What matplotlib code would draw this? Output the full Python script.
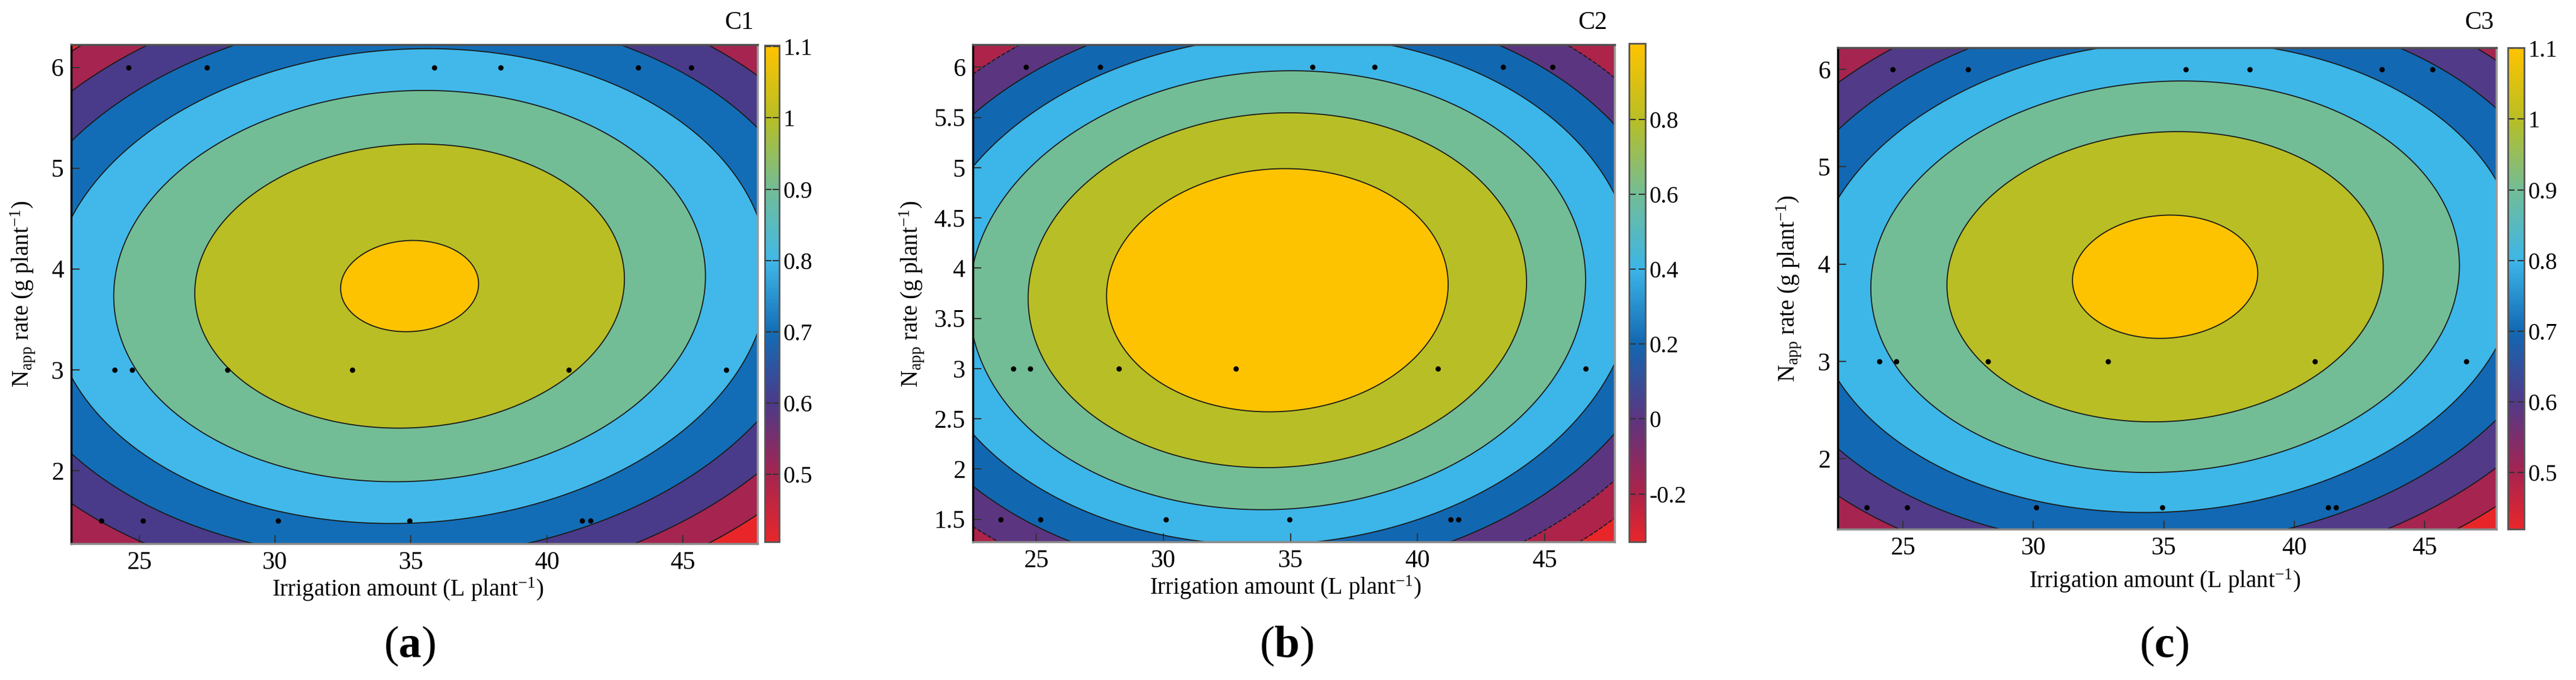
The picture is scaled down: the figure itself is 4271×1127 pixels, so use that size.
import numpy as np
import matplotlib
matplotlib.use("Agg")
import matplotlib.pyplot as plt
from matplotlib.colors import LinearSegmentedColormap, Normalize
from matplotlib.cm import ScalarMappable

# ---------------- data ----------------
panel_titles = ["C1", "C2", "C3"]
panel_letters = ["a", "b", "c"]

# experimental design points (irrigation L/plant, N rate g/plant)
irrigation_pts = [24.6, 27.5, 35.85, 38.3, 43.35, 45.3,
                  24.1, 24.75, 28.25, 32.85, 40.8, 46.6,
                  23.6, 25.15, 30.1, 34.95, 41.3, 41.6]
nrate_pts = [6, 6, 6, 6, 6, 6,
             3, 3, 3, 3, 3, 3,
             1.5, 1.5, 1.5, 1.5, 1.5, 1.5]

# fitted quadratic response-surface coefficients for each panel
peak_value = [1.1115, 1.005, 1.122]
peak_irrigation = [34.95, 34.48, 35.05]
peak_nrate = [3.83, 3.78, 3.87]
curv_irrigation = [0.00179, 0.00344, 0.00175]
curv_nrate = [0.0563, 0.106, 0.055]
interaction = [0.00101, 0.00178, 0.00113]

contour_levels = [
    [0.5, 0.6, 0.7, 0.8, 0.9, 1.0, 1.1],
    [-0.2, -0.025, 0.15, 0.325, 0.5, 0.675, 0.85],
    [0.5, 0.6, 0.7, 0.8, 0.9, 1.0, 1.1],
]
band_colors = [
    ["#E8262A", "#A62450", "#4A3A8A", "#126DB6", "#41B8E9", "#72BD96", "#B8BE24", "#FEC300"],
    ["#E8262A", "#AD2349", "#5C3580", "#1267B1", "#3CB5E8", "#72BD96", "#B8BE25", "#FEC300"],
    ["#E8262A", "#A62450", "#513A88", "#1268B2", "#3DB6E8", "#72BD96", "#B8BE24", "#FEC300"],
]
cbar_limits = [(0.405, 1.102), (-0.328, 1.003), (0.42, 1.101)]
cbar_ticks = [
    [0.5, 0.6, 0.7, 0.8, 0.9, 1.0, 1.1],
    [-0.2, 0.0, 0.2, 0.4, 0.6, 0.8],
    [0.5, 0.6, 0.7, 0.8, 0.9, 1.0, 1.1],
]
cbar_ticklabels = [
    ["0.5", "0.6", "0.7", "0.8", "0.9", "1", "1.1"],
    ["-0.2", "0", "0.2", "0.4", "0.6", "0.8"],
    ["0.5", "0.6", "0.7", "0.8", "0.9", "1", "1.1"],
]
# colorbar colour anchors (value of each band colour on the colourbar)
cbar_anchor_values = [
    [0.5, 0.6, 0.7, 0.8, 0.9, 1.0, 1.1],
    [-0.2, 0.0, 0.2, 0.4, 0.6, 0.8, 1.0],
    [0.5, 0.6, 0.7, 0.8, 0.9, 1.0, 1.1],
]
x_ticks = [25, 30, 35, 40, 45]
y_ticks = [[2, 3, 4, 5, 6], [1.5, 2, 2.5, 3, 3.5, 4, 4.5, 5, 5.5, 6], [2, 3, 4, 5, 6]]
y_ticklabels = [["2", "3", "4", "5", "6"],
                ["1.5", "2", "2.5", "3", "3.5", "4", "4.5", "5", "5.5", "6"],
                ["2", "3", "4", "5", "6"]]
x_limits = (22.5, 47.75)
y_limits = (1.275, 6.225)

xlabel_text = r"Irrigation amount (L plant$^{\mathrm{-1}}$)"
ylabel_text = r"N$_{\mathrm{app}}$ rate (g plant$^{\mathrm{-1}}$)"

# ---------------- layout (pixels of a 4271 x 1127 canvas) ----------------
W, H = 4271, 1127
axes_px = [(118, 1256, 74, 901), (1613, 2677, 74, 898), (3047, 4139, 79, 877)]
cbar_px = [(1268, 1292, 75, 898), (2701, 2728, 72, 898), (4158, 4185, 79, 877)]
title_px = [(1250, 57), (2665, 57), (4135, 57)]
letter_px = [(679, 1071), (2133, 1071), (3588, 1071)]
xlabel_px = [(676, 977), (2131, 974), (3589, 963)]
ylabel_px = [(38, 487), (1512, 487), (2966, 478)]

plt.rcParams["font.family"] = ["Liberation Serif", "DejaVu Serif"]
plt.rcParams["mathtext.fontset"] = "custom"
plt.rcParams["mathtext.rm"] = "Liberation Serif"
plt.rcParams["mathtext.it"] = "Liberation Serif:italic"
plt.rcParams["mathtext.bf"] = "Liberation Serif:bold"

fig = plt.figure(figsize=(W / 100, H / 100), dpi=100)


def rect(l, r, t, b):
    return [l / W, 1 - b / H, (r - l) / W, (b - t) / H]


xg = np.linspace(x_limits[0], x_limits[1], 400)
yg = np.linspace(y_limits[0], y_limits[1], 400)
XG, YG = np.meshgrid(xg, yg)

for i in range(3):
    ax = fig.add_axes(rect(*axes_px[i]))
    dx = XG - peak_irrigation[i]
    dy = YG - peak_nrate[i]
    Z = (peak_value[i] - curv_irrigation[i] * dx ** 2 - curv_nrate[i] * dy ** 2
         + interaction[i] * dx * dy)
    lv = contour_levels[i]
    ax.contourf(XG, YG, Z, levels=[-100] + lv + [100], colors=band_colors[i])
    ax.contour(XG, YG, Z, levels=lv, colors="#1a1a1a", linewidths=1.3)
    ax.scatter(irrigation_pts, nrate_pts, s=40, c="black", zorder=5, linewidths=0)
    ax.set_xlim(*x_limits)
    ax.set_ylim(*y_limits)
    ax.set_xticks(x_ticks)
    ax.set_xticklabels([str(t) for t in x_ticks])
    ax.set_yticks(y_ticks[i])
    ax.set_yticklabels(y_ticklabels[i])
    ax.tick_params(direction="in", length=10, width=1.5, color="#333333",
                   labelsize=30, pad=9, top=False, right=False)
    ax.spines["left"].set_color("black")
    ax.spines["top"].set_color("#505050")
    ax.spines["right"].set_color("#9a9a9a")
    ax.spines["bottom"].set_color("#8a8a8a")
    for s in ax.spines.values():
        s.set_linewidth(2.5)
        s.set_zorder(6)

    # colorbar
    cax = fig.add_axes(rect(*cbar_px[i]))
    vmin, vmax = cbar_limits[i]
    anchors = [(0.0, band_colors[i][0])]
    for v, col in zip(cbar_anchor_values[i], band_colors[i][1:]):
        anchors.append((min((v - vmin) / (vmax - vmin), 1.0), col))
    if anchors[-1][0] < 1.0:
        anchors.append((1.0, band_colors[i][-1]))
    cmap = LinearSegmentedColormap.from_list("cb%d" % i, anchors, N=512)
    sm = ScalarMappable(norm=Normalize(vmin, vmax), cmap=cmap)
    cb = fig.colorbar(sm, cax=cax)
    cb.set_ticks(cbar_ticks[i])
    cb.set_ticklabels(cbar_ticklabels[i])
    cb.outline.set_edgecolor("#555555")
    cb.outline.set_linewidth(2)
    cax.tick_params(direction="in", length=8, width=1.5, color="#333333",
                    labelsize=28, pad=5, left=True, right=True)

    fig.text(title_px[i][0] / W, 1 - title_px[i][1] / H, panel_titles[i],
             ha="right", va="bottom", fontsize=30)
    fig.text(xlabel_px[i][0] / W, 1 - xlabel_px[i][1] / H, xlabel_text,
             ha="center", va="center", fontsize=28)
    fig.text(ylabel_px[i][0] / W, 1 - ylabel_px[i][1] / H, ylabel_text,
             ha="center", va="center", rotation=90, fontsize=28)
    fig.text(letter_px[i][0] / W, 1 - letter_px[i][1] / H,
             r"($\mathbf{%s}$)" % panel_letters[i],
             ha="center", va="center", fontsize=54)

fig.savefig("out.png", dpi=100, facecolor="white")
